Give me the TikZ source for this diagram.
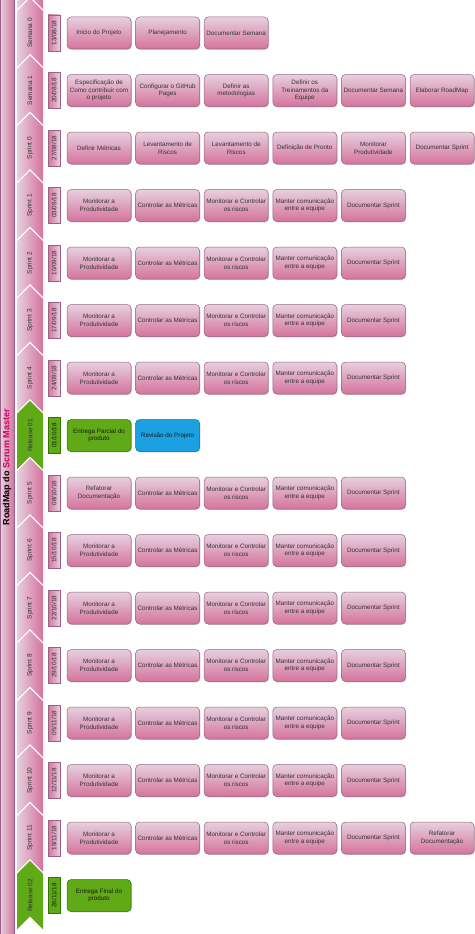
\documentclass[tikz,border=0pt]{standalone}
\usepackage{fontspec}
\setmainfont{Liberation Sans}
\usetikzlibrary{shadows}
\hyphenpenalty=10000
\exhyphenpenalty=10000

\begin{document}
\begin{tikzpicture}[x=1pt,y=-1pt, line width=0.5pt,
    card/.style={rounded corners=4pt, minimum width=64pt, minimum height=32pt,
        inner sep=1pt, align=center, font=\fontsize{6.3}{7.6}\selectfont,
        drop shadow={shadow xshift=0.8pt, shadow yshift=-0.8pt, opacity=0.22, fill=black}},
    task/.style={card, draw=pinkline, top color=pinktop, bottom color=pinkbot, text=textgray},
    deliver/.style={card, draw=greenline, fill=greenfill, text=darktext},
    review/.style={card, draw=blueline, fill=bluefill, text=darktext},
    datebase/.style={rotate=90, minimum width=36pt, minimum height=12pt, inner sep=0pt,
        font=\fontsize{6.4}{7}\selectfont},
    datebox/.style={datebase, draw=pinkline, left color=pinkbot, right color=pinktop, text=textgray},
    reldate/.style={datebase, draw=greenline, fill=greenfill, text=darktext},
    phase/.style={rotate=90, font=\fontsize{6.5}{7.5}\selectfont, text=textgray},
    chevpink/.style={left color=pinktop, right color=pinkbot},
    chevgreen/.style={fill=greenfill}]
    \definecolor{pinktop}{HTML}{E6D0DE}
    \definecolor{pinkbot}{HTML}{D5739D}
    \definecolor{pinkline}{HTML}{996185}
    \definecolor{greenfill}{HTML}{60A917}
    \definecolor{greenline}{HTML}{2D7600}
    \definecolor{bluefill}{HTML}{1BA1E2}
    \definecolor{blueline}{HTML}{006EAF}
    \definecolor{textgray}{HTML}{333333}
    \definecolor{darktext}{HTML}{1A1A1A}
    \definecolor{titlemag}{HTML}{CC0066}

    \useasboundingbox (0,0) rectangle (474,934);

    % Title bar
    \path[left color=pinktop, right color=pinkbot, draw=pinkline] (0.3,-2) rectangle (14,936);
    \node[rotate=90, font=\fontsize{9}{11}\selectfont\bfseries] (title) at (7,467)
        {RoadMap do \textcolor{titlemag}{Scrum Master}};

    % Cut-off chevron above the first row
    \begin{scope}[shift={(0,-24.5)}]
        \path[chevpink] (17,-21.75) -- (30,-34.75) -- (43,-21.75) -- (43,33.75) -- (30,20.75) -- (17,33.75) -- cycle;
    \end{scope}

    % Semana 0
    \begin{scope}[shift={(0,33)}]
        \path[chevpink] (17,-21.75) -- (30,-34.75) -- (43,-21.75) -- (43,33.75) -- (30,20.75) -- (17,33.75) -- cycle;
        \node[phase] (ph0) at (30,0) {Semana 0};
        \node[datebox] (dt0) at (54,0) {13/08/18};
        \node[task] (t0a) at (99,0) {Inicio do Projeto};
        \node[task] (t0b) at (167.6,0) {Planejamento};
        \node[task] (t0c) at (236.2,0) {Documentar Semana};
    \end{scope}

    % Semana 1
    \begin{scope}[shift={(0,90.5)}]
        \path[chevpink] (17,-21.75) -- (30,-34.75) -- (43,-21.75) -- (43,33.75) -- (30,20.75) -- (17,33.75) -- cycle;
        \node[phase] (ph1) at (30,0) {Semana 1};
        \node[datebox] (dt1) at (54,0) {20/08/18};
        \node[task] (t1a) at (99,0) {Especificação de\\Como contribuir com\\o projeto};
        \node[task] (t1b) at (167.6,0) {Configurar o GitHub\\Pages};
        \node[task] (t1c) at (236.2,0) {Definir as\\metodologias};
        \node[task] (t1d) at (304.8,0) {Definir os\\Treinamentos da\\Equipe};
        \node[task] (t1e) at (373.4,0) {Documentar Semana};
        \node[task] (t1f) at (442,0) {Elaborar RoadMap};
    \end{scope}

    % Sprint 0
    \begin{scope}[shift={(0,148)}]
        \path[chevpink] (17,-21.75) -- (30,-34.75) -- (43,-21.75) -- (43,33.75) -- (30,20.75) -- (17,33.75) -- cycle;
        \node[phase] (ph2) at (30,0) {Sprint 0};
        \node[datebox] (dt2) at (54,0) {27/08/18};
        \node[task] (t2a) at (99,0) {Definir Métricas};
        \node[task] (t2b) at (167.6,0) {Levantamento de\\Riscos};
        \node[task] (t2c) at (236.2,0) {Levantamento de\\Riscos};
        \node[task] (t2d) at (304.8,0) {Definição de Pronto};
        \node[task] (t2e) at (373.4,0) {Monitorar\\Produtividade};
        \node[task] (t2f) at (442,0) {Documentar Sprint};
    \end{scope}

    % Sprint 1
    \begin{scope}[shift={(0,205.5)}]
        \path[chevpink] (17,-21.75) -- (30,-34.75) -- (43,-21.75) -- (43,33.75) -- (30,20.75) -- (17,33.75) -- cycle;
        \node[phase] (ph3) at (30,0) {Sprint 1};
        \node[datebox] (dt3) at (54,0) {03/09/18};
        \node[task] (t3a) at (99,0) {Monitorar a\\Produtividade};
        \node[task] (t3b) at (167.6,0) {Controlar as Métricas};
        \node[task] (t3c) at (236.2,0) {Monitorar e Controlar\\os riscos};
        \node[task] (t3d) at (304.8,0) {Manter comunicação\\entre a equipe};
        \node[task] (t3e) at (373.4,0) {Documentar Sprint};
    \end{scope}

    % Sprint 2
    \begin{scope}[shift={(0,263)}]
        \path[chevpink] (17,-21.75) -- (30,-34.75) -- (43,-21.75) -- (43,33.75) -- (30,20.75) -- (17,33.75) -- cycle;
        \node[phase] (ph4) at (30,0) {Sprint 2};
        \node[datebox] (dt4) at (54,0) {10/09/18};
        \node[task] (t4a) at (99,0) {Monitorar a\\Produtividade};
        \node[task] (t4b) at (167.6,0) {Controlar as Métricas};
        \node[task] (t4c) at (236.2,0) {Monitorar e Controlar\\os riscos};
        \node[task] (t4d) at (304.8,0) {Manter comunicação\\entre a equipe};
        \node[task] (t4e) at (373.4,0) {Documentar Sprint};
    \end{scope}

    % Sprint 3
    \begin{scope}[shift={(0,320.5)}]
        \path[chevpink] (17,-21.75) -- (30,-34.75) -- (43,-21.75) -- (43,33.75) -- (30,20.75) -- (17,33.75) -- cycle;
        \node[phase] (ph5) at (30,0) {Sprint 3};
        \node[datebox] (dt5) at (54,0) {17/09/18};
        \node[task] (t5a) at (99,0) {Monitorar a\\Produtividade};
        \node[task] (t5b) at (167.6,0) {Controlar as Métricas};
        \node[task] (t5c) at (236.2,0) {Monitorar e Controlar\\os riscos};
        \node[task] (t5d) at (304.8,0) {Manter comunicação\\entre a equipe};
        \node[task] (t5e) at (373.4,0) {Documentar Sprint};
    \end{scope}

    % Sprint 4
    \begin{scope}[shift={(0,378)}]
        \path[chevpink] (17,-21.75) -- (30,-34.75) -- (43,-21.75) -- (43,33.75) -- (30,20.75) -- (17,33.75) -- cycle;
        \node[phase] (ph6) at (30,0) {Sprint 4};
        \node[datebox] (dt6) at (54,0) {24/09/18};
        \node[task] (t6a) at (99,0) {Monitorar a\\Produtividade};
        \node[task] (t6b) at (167.6,0) {Controlar as Métricas};
        \node[task] (t6c) at (236.2,0) {Monitorar e Controlar\\os riscos};
        \node[task] (t6d) at (304.8,0) {Manter comunicação\\entre a equipe};
        \node[task] (t6e) at (373.4,0) {Documentar Sprint};
    \end{scope}

    % Release 01
    \begin{scope}[shift={(0,435.5)}]
        \path[chevgreen] (17,-21.75) -- (30,-34.75) -- (43,-21.75) -- (43,33.75) -- (30,20.75) -- (17,33.75) -- cycle;
        \node[phase] (ph7) at (30,0) {Release 01};
        \node[reldate] (dt7) at (54,0) {01/10/18};
        \node[deliver] (t7a) at (99,0) {Entrega Parcial do\\produto};
        \node[review] (t7b) at (167.6,0) {Revisão do Projeto};
    \end{scope}

    % Sprint 5
    \begin{scope}[shift={(0,493)}]
        \path[chevpink] (17,-21.75) -- (30,-34.75) -- (43,-21.75) -- (43,33.75) -- (30,20.75) -- (17,33.75) -- cycle;
        \node[phase] (ph8) at (30,0) {Sprint 5};
        \node[datebox] (dt8) at (54,0) {08/10/18};
        \node[task] (t8a) at (99,0) {Refatorar\\Documentação};
        \node[task] (t8b) at (167.6,0) {Controlar as Métricas};
        \node[task] (t8c) at (236.2,0) {Monitorar e Controlar\\os riscos};
        \node[task] (t8d) at (304.8,0) {Manter comunicação\\entre a equipe};
        \node[task] (t8e) at (373.4,0) {Documentar Sprint};
    \end{scope}

    % Sprint 6
    \begin{scope}[shift={(0,550.5)}]
        \path[chevpink] (17,-21.75) -- (30,-34.75) -- (43,-21.75) -- (43,33.75) -- (30,20.75) -- (17,33.75) -- cycle;
        \node[phase] (ph9) at (30,0) {Sprint 6};
        \node[datebox] (dt9) at (54,0) {15/10/18};
        \node[task] (t9a) at (99,0) {Monitorar a\\Produtividade};
        \node[task] (t9b) at (167.6,0) {Controlar as Métricas};
        \node[task] (t9c) at (236.2,0) {Monitorar e Controlar\\os riscos};
        \node[task] (t9d) at (304.8,0) {Manter comunicação\\entre a equipe};
        \node[task] (t9e) at (373.4,0) {Documentar Sprint};
    \end{scope}

    % Sprint 7
    \begin{scope}[shift={(0,608)}]
        \path[chevpink] (17,-21.75) -- (30,-34.75) -- (43,-21.75) -- (43,33.75) -- (30,20.75) -- (17,33.75) -- cycle;
        \node[phase] (ph10) at (30,0) {Sprint 7};
        \node[datebox] (dt10) at (54,0) {22/10/18};
        \node[task] (t10a) at (99,0) {Monitorar a\\Produtividade};
        \node[task] (t10b) at (167.6,0) {Controlar as Métricas};
        \node[task] (t10c) at (236.2,0) {Monitorar e Controlar\\os riscos};
        \node[task] (t10d) at (304.8,0) {Manter comunicação\\entre a equipe};
        \node[task] (t10e) at (373.4,0) {Documentar Sprint};
    \end{scope}

    % Sprint 8
    \begin{scope}[shift={(0,665.5)}]
        \path[chevpink] (17,-21.75) -- (30,-34.75) -- (43,-21.75) -- (43,33.75) -- (30,20.75) -- (17,33.75) -- cycle;
        \node[phase] (ph11) at (30,0) {Sprint 8};
        \node[datebox] (dt11) at (54,0) {29/10/18};
        \node[task] (t11a) at (99,0) {Monitorar a\\Produtividade};
        \node[task] (t11b) at (167.6,0) {Controlar as Métricas};
        \node[task] (t11c) at (236.2,0) {Monitorar e Controlar\\os riscos};
        \node[task] (t11d) at (304.8,0) {Manter comunicação\\entre a equipe};
        \node[task] (t11e) at (373.4,0) {Documentar Sprint};
    \end{scope}

    % Sprint 9
    \begin{scope}[shift={(0,723)}]
        \path[chevpink] (17,-21.75) -- (30,-34.75) -- (43,-21.75) -- (43,33.75) -- (30,20.75) -- (17,33.75) -- cycle;
        \node[phase] (ph12) at (30,0) {Sprint 9};
        \node[datebox] (dt12) at (54,0) {05/11/18};
        \node[task] (t12a) at (99,0) {Monitorar a\\Produtividade};
        \node[task] (t12b) at (167.6,0) {Controlar as Métricas};
        \node[task] (t12c) at (236.2,0) {Monitorar e Controlar\\os riscos};
        \node[task] (t12d) at (304.8,0) {Manter comunicação\\entre a equipe};
        \node[task] (t12e) at (373.4,0) {Documentar Sprint};
    \end{scope}

    % Sprint 10
    \begin{scope}[shift={(0,780.5)}]
        \path[chevpink] (17,-21.75) -- (30,-34.75) -- (43,-21.75) -- (43,33.75) -- (30,20.75) -- (17,33.75) -- cycle;
        \node[phase] (ph13) at (30,0) {Sprint 10};
        \node[datebox] (dt13) at (54,0) {12/11/18};
        \node[task] (t13a) at (99,0) {Monitorar a\\Produtividade};
        \node[task] (t13b) at (167.6,0) {Controlar as Métricas};
        \node[task] (t13c) at (236.2,0) {Monitorar e Controlar\\os riscos};
        \node[task] (t13d) at (304.8,0) {Manter comunicação\\entre a equipe};
        \node[task] (t13e) at (373.4,0) {Documentar Sprint};
    \end{scope}

    % Sprint 11
    \begin{scope}[shift={(0,838)}]
        \path[chevpink] (17,-21.75) -- (30,-34.75) -- (43,-21.75) -- (43,33.75) -- (30,20.75) -- (17,33.75) -- cycle;
        \node[phase] (ph14) at (30,0) {Sprint 11};
        \node[datebox] (dt14) at (54,0) {19/11/18};
        \node[task] (t14a) at (99,0) {Monitorar a\\Produtividade};
        \node[task] (t14b) at (167.6,0) {Controlar as Métricas};
        \node[task] (t14c) at (236.2,0) {Monitorar e Controlar\\os riscos};
        \node[task] (t14d) at (304.8,0) {Manter comunicação\\entre a equipe};
        \node[task] (t14e) at (373.4,0) {Documentar Sprint};
        \node[task] (t14f) at (442,0) {Refatorar\\Documentação};
    \end{scope}

    % Release 02
    \begin{scope}[shift={(0,895.5)}]
        \path[chevgreen] (17,-21.75) -- (30,-34.75) -- (43,-21.75) -- (43,33.75) -- (30,20.75) -- (17,33.75) -- cycle;
        \node[phase] (ph15) at (30,0) {Release 02};
        \node[reldate] (dt15) at (54,0) {26/11/18};
        \node[deliver] (t15a) at (99,0) {Entrega Final do\\produto};
    \end{scope}
\end{tikzpicture}
\end{document}
